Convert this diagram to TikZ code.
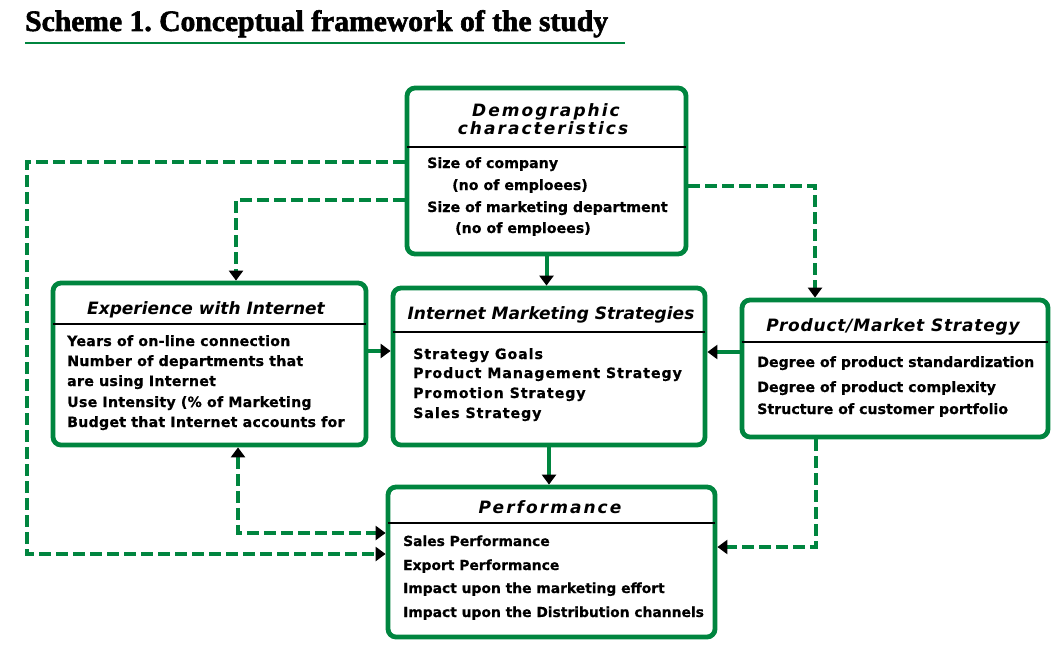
\documentclass[tikz,border=0pt]{standalone}
\usepackage{fontspec}
\setmainfont{DejaVu Sans}
\newfontfamily\titlefont{Liberation Serif}[FakeBold=2]
\usetikzlibrary{arrows.meta}
\definecolor{dgreen}{RGB}{0,133,63}
\tikzset{
  x=1pt, y=-1pt,
  box/.style={draw=dgreen, line width=4.8pt, rounded corners=8pt, fill=white, inner sep=0pt},
  divider/.style={draw=black, line width=1.2pt, shorten >=2.5pt, shorten <=2.5pt},
  txt/.style={font=\bfseries\fontsize{14.2}{17}\selectfont\addfontfeature{FakeBold=0.6}, anchor=base west, inner sep=0pt},
  hdr/.style={font=\bfseries\itshape\fontsize{17}{18}\selectfont, anchor=base, inner sep=0pt},
  wide/.style={font=\bfseries\itshape\fontsize{17}{18}\selectfont\addfontfeature{LetterSpace=12}},
  spaced/.style={font=\bfseries\fontsize{14.2}{17}\selectfont\addfontfeature{FakeBold=0.6,LetterSpace=#1}},
  >={Triangle[length=10pt,width=14pt,color=black]},
  conn/.style={draw=dgreen, line width=4pt, ->},
  dconn/.style={draw=dgreen, line width=3.5pt, dash pattern=on 12pt off 5pt},
}
\begin{document}
\begin{tikzpicture}
\useasboundingbox (0,0) rectangle (1062,647);
% title
\node[anchor=base west, font=\titlefont\bfseries\fontsize{29.6}{30}\selectfont, inner sep=0pt] (title) at (25,31) {\frenchspacing Scheme 1. Conceptual framework of the study};
\draw[dgreen, line width=1.5pt] (25,43) -- (625,43);

% boxes
\node[box, minimum width=279pt, minimum height=166pt] (demo) at (546.5,171) {};
\node[box, minimum width=313pt, minimum height=162pt] (exp) at (209.5,364) {};
\node[box, minimum width=312pt, minimum height=157pt] (ims) at (549,366.5) {};
\node[box, minimum width=306pt, minimum height=137pt] (prod) at (895,368.5) {};
\node[box, minimum width=327pt, minimum height=150pt] (perf) at (551.5,562) {};

% dividers
\draw[divider] (demo.west |- 0,147) -- (demo.east |- 0,147);
\draw[divider] (exp.west |- 0,324) -- (exp.east |- 0,324);
\draw[divider] (ims.west |- 0,332) -- (ims.east |- 0,332);
\draw[divider] (prod.west |- 0,342) -- (prod.east |- 0,342);
\draw[divider] (perf.west |- 0,523) -- (perf.east |- 0,523);

% Demographic
\node[hdr, wide] (demo-t1) at (546,117) {Demographic};
\node[hdr, wide] (demo-t2) at (543,135) {characteristics};
\node[txt] (demo-b1) at (427,168) {Size of company};
\node[txt] (demo-b2) at (452,190) {(no of emploees)};
\node[txt] (demo-b3) at (427,212) {Size of marketing department};
\node[txt] (demo-b4) at (455,233) {(no of emploees)};

% Experience
\node[hdr] (exp-t) at (206,314) {Experience with Internet};
\node[txt, spaced=1.7] (exp-b1) at (67,346) {Years of on-line connection};
\node[txt, spaced=1.7] (exp-b2) at (67,366) {Number of departments that};
\node[txt, spaced=1.7] (exp-b3) at (67,386) {are using Internet};
\node[txt, spaced=1.7] (exp-b4) at (67,407) {Use Intensity (\% of Marketing};
\node[txt, spaced=1.7] (exp-b5) at (67,427) {Budget that Internet accounts for};

% IMS
\node[hdr] (ims-t) at (551,319) {Internet Marketing Strategies};
\node[txt, spaced=6.5] (ims-b1) at (413,359) {Strategy Goals};
\node[txt, spaced=6.5] (ims-b2) at (413,378) {Product Management Strategy};
\node[txt, spaced=6.5] (ims-b3) at (413,398) {Promotion Strategy};
\node[txt, spaced=6.5] (ims-b4) at (413,418) {Sales Strategy};

% Product
\node[hdr, font=\bfseries\itshape\fontsize{17}{18}\selectfont\addfontfeature{LetterSpace=4.6}] (prod-t) at (893,331) {Product/Market Strategy};
\node[txt] (prod-b1) at (757,367) {Degree of product standardization};
\node[txt] (prod-b2) at (757,392) {Degree of product complexity};
\node[txt] (prod-b3) at (757,414) {Structure of customer portfolio};

% Performance
\node[hdr, wide] (perf-t) at (550,513) {Performance};
\node[txt, font=\bfseries\fontsize{13.85}{17}\selectfont\addfontfeature{FakeBold=0.6}] (perf-b1) at (403,546) {Sales Performance};
\node[txt, font=\bfseries\fontsize{13.85}{17}\selectfont\addfontfeature{FakeBold=0.6}] (perf-b2) at (403,570) {Export Performance};
\node[txt, font=\bfseries\fontsize{13.85}{17}\selectfont\addfontfeature{FakeBold=0.6}] (perf-b3) at (403,593) {Impact upon the marketing effort};
\node[txt, font=\bfseries\fontsize{13.85}{17}\selectfont\addfontfeature{FakeBold=0.6}] (perf-b4) at (403,617) {Impact upon the Distribution channels};

% solid connectors
\draw[conn] (demo.south) -- (demo.south |- ims.north);
\draw[conn] (ims.south) -- (ims.south |- perf.north);
\draw[conn] (exp.east |- 0,351) -- (ims.west |- 0,351);
\draw[conn] (prod.west |- 0,352) -- (ims.east |- 0,352);

% dashed connectors
\draw[dconn, ->] (demo.west |- 0,162) -- (27,162) -- (27,554) -- (perf.west |- 0,554);
\draw[dconn, ->] (demo.west |- 0,200) -| (exp.north -| 236,0);
\draw[dconn, ->] (demo.east |- 0,186) -| (prod.north -| 815,0);
\draw[dconn, <->] (exp.south -| 238,0) -- (238,533) -- (perf.west |- 0,533);
\draw[dconn, ->] (prod.south -| 816,0) -- (816,547) -- (perf.east |- 0,547);
\end{tikzpicture}
\end{document}
